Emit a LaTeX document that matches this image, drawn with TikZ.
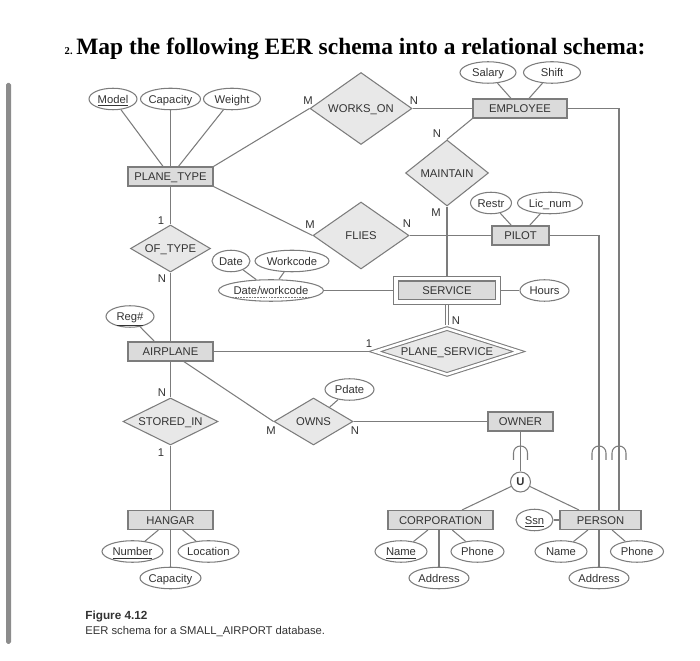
\documentclass[tikz,border=0pt]{standalone}
\usepackage{fontspec}
\setmainfont{Liberation Sans}
\newfontfamily\titlefont{Liberation Serif}
\usepackage{tikz}
\usetikzlibrary{positioning,shapes.geometric}
\definecolor{linegray}{HTML}{7C7C7C}
\definecolor{textgray}{HTML}{333333}
\tikzset{
    small/.style={font=\fontsize{6.4}{7.7}\selectfont,text=textgray,text height=4.6pt,text depth=0pt},
    conn/.style={draw=linegray,line width=0.6pt},
    entity/.style n args={1}{small,conn,fill=gray!28,rectangle,inner sep=0pt,minimum width=#1,minimum height=0.38cm},
    rel/.style n args={3}{small,conn,fill=gray!18,diamond,inner sep=0pt,minimum width=#1,minimum height=#2,aspect=#3},
    attr/.style n args={1}{small,conn,fill=white,ellipse,inner xsep=-3pt,inner ysep=-0.5pt,minimum width=#1,minimum height=0.43cm},
    card/.style={small,inner sep=0pt},
}
\begin{document}
\begin{tikzpicture}[x=0.02cm,y=-0.02cm]
                    \useasboundingbox (0,0) rectangle (700,661);
                    \fill[gray!90,rounded corners=1pt] (6,83) rectangle (11,644);
                    \node[anchor=base east,inner sep=0pt,font=\titlefont\bfseries\fontsize{6}{7}\selectfont] (titleNum) at (73,54.5) {2.};
                    \node[anchor=base west,inner sep=0pt,font=\titlefont\bfseries\fontsize{13.35}{16}\selectfont] (title) at (76,54.5) {Map the following EER schema into a relational schema:};

                    \node[entity={1.7cm}] (planeType) at (170.5,176.5) {PLANE\_TYPE};
                    \node[entity={1.88cm}] (employee) at (520,108.5) {EMPLOYEE};
                    \node[entity={1.14cm}] (pilot) at (520.5,235.5) {PILOT};
                    \node[entity={2.04cm},double,double distance=0.07cm,minimum height=0.47cm,outer sep=1.5pt] (service) at (447,290.5) {SERVICE};
                    \node[entity={1.7cm}] (airplane) at (170.5,351.5) {AIRPLANE};
                    \node[entity={1.3cm}] (owner) at (520.5,421.5) {OWNER};
                    \node[entity={1.7cm}] (hangar) at (170.5,520) {HANGAR};
                    \node[entity={2.1cm}] (corporation) at (440.5,520) {CORPORATION};
                    \node[entity={1.62cm}] (person) at (600.5,520) {PERSON};

                    \node[rel={2.04cm}{1.44cm}{1.42}] (worksOn) at (361,108.5) {WORKS\_ON};
                    \node[rel={1.66cm}{1.32cm}{1.26}] (maintain) at (447,173) {MAINTAIN};
                    \node[rel={1.92cm}{1.34cm}{1.43}] (flies) at (361,235.5) {FLIES};
                    \node[rel={1.6cm}{0.94cm}{1.7}] (ofType) at (170.5,248.5) {OF\_TYPE};
                    \node[rel={1.9cm}{0.94cm}{2.02}] (storedIn) at (170.5,421.5) {STORED\_IN};
                    \node[rel={1.58cm}{0.94cm}{1.68}] (owns) at (313.5,421.5) {OWNS};
                    \node[rel={2.92cm}{0.96cm}{3},double,double distance=0.05cm,outer sep=1.5pt] (planeService) at (447,351.5) {PLANE\_SERVICE};

                    \node[attr={0.96cm}] (model) at (113,99) {\underline{Model}};
                    \node[attr={1.2cm}] (capacityA) at (170.5,99) {Capacity};
                    \node[attr={1.14cm}] (weight) at (232,99) {Weight};
                    \node[attr={1.12cm}] (salary) at (488,72.5) {Salary};
                    \node[attr={1.14cm}] (shift) at (552,72.5) {Shift};
                    \node[attr={0.82cm}] (restr) at (491,203) {Restr};
                    \node[attr={1.3cm}] (licNum) at (550,203) {Lic\_num};
                    \node[attr={0.98cm}] (hours) at (544.5,290.5) {Hours};
                    \node[attr={0.76cm}] (date) at (231,261) {Date};
                    \node[attr={1.48cm}] (workcode) at (292,261) {Workcode};
                    \node[attr={2.1cm}] (dateWorkcode) at (271,290.5) {Date/workcode};
                    \node[attr={0.96cm}] (regNum) at (130,316.5) {\underline{Reg\#}};
                    \node[attr={0.98cm}] (pdate) at (349.5,389.5) {Pdate};
                    \node[attr={1.22cm}] (number) at (132.5,551.5) {\underline{Number}};
                    \node[attr={1.22cm}] (location) at (208.5,551.5) {Location};
                    \node[attr={1.22cm}] (capacityB) at (170.5,578) {Capacity};
                    \node[attr={1.04cm}] (nameC) at (401,551.5) {\underline{Name}};
                    \node[attr={1.06cm}] (phoneC) at (477.5,551.5) {Phone};
                    \node[attr={1.2cm}] (addressC) at (439,578) {Address};
                    \node[attr={0.74cm}] (ssn) at (534.5,520) {\underline{Ssn}};
                    \node[attr={1.04cm}] (nameP) at (561,551.5) {Name};
                    \node[attr={1.06cm}] (phoneP) at (637,551.5) {Phone};
                    \node[attr={1.2cm}] (addressP) at (599,578) {Address};
                    \node[conn,fill=white,circle,inner sep=0pt,minimum size=0.4cm,font=\fontsize{6.4}{7.7}\selectfont\bfseries,text=textgray] (unionU) at (520.5,482) {U};

                    % dashed key line
                    \draw[linegray,dashed,line width=0.5pt,dash pattern=on 1pt off 0.6pt] (232,297) -- (310,297);

                    \coordinate (pilotDown) at (599,510);
                    \coordinate (employeeDown) at (619,510);

                    \draw[conn] (model) -- (planeType);
                    \draw[conn] (capacityA) -- (capacityA |- planeType.north);
                    \draw[conn] (weight) -- (planeType);
                    \draw[conn] (planeType.north east) -- (worksOn.west);
                    \draw[conn] (planeType.south east) -- (flies.west);
                    \draw[conn] (planeType.south) -- (ofType.north);
                    \draw[conn] (ofType.south) -- (airplane.north);
                    \draw[conn] (regNum) -- (airplane.148);
                    \draw[conn] (airplane.east) -- (planeService.west);
                    \draw[conn] (airplane.south) -- (storedIn.north);
                    \draw[conn] (storedIn.south) -- (hangar.north);
                    \draw[conn] (airplane.-37) -- (owns.west);
                    \draw[conn] (pdate) -- (owns);
                    \draw[conn] (owns.east) -- (owner.west);
                    \draw[conn] (worksOn.east) -- (employee.west);
                    \draw[conn] (salary) -- (employee);
                    \draw[conn] (shift) -- (employee);
                    \draw[conn] (employee.south west) -- (maintain.north);
                    \draw[conn] (maintain.south) -- (service.north);
                    \draw[conn] (flies.east) -- (pilot.west);
                    \draw[conn] (restr) -- (pilot);
                    \draw[conn] (licNum) -- (pilot);
                    \draw[conn] (dateWorkcode.east) -- (service.west);
                    \draw[conn] (date) -- (dateWorkcode);
                    \draw[conn] (workcode) -- (dateWorkcode);
                    \draw[conn] (service.east) -- (hours.west);
                    \draw[conn,double,double distance=0.04cm,line width=0.5pt] (service.south) -- (planeService.north);
                    \draw[conn] (pilot.east) -| (pilotDown);
                    \draw[conn] (employee.east) -| (employeeDown);
                    \draw[conn] (owner.south) -- (unionU.north);
                    \draw[conn] (unionU) -- (corporation.25);
                    \draw[conn] (unionU) -- (person.155);
                    \draw[conn] (number) -- (hangar);
                    \draw[conn] (location) -- (hangar);
                    \draw[conn] (capacityB.north) -- (capacityB |- hangar.south);
                    \draw[conn] (nameC) -- (corporation);
                    \draw[conn] (phoneC) -- (corporation);
                    \draw[conn] (addressC.north) -- (addressC |- corporation.south);
                    \draw[conn] (ssn.east) -- (person.west);
                    \draw[conn] (nameP) -- (person);
                    \draw[conn] (phoneP) -- (person);
                    \draw[conn] (addressP.north) -- (addressP |- person.south);

                    % subset marks
                    \foreach \x in {520.5,599,619}
                        \draw[conn] ({\x-7},460) -- ({\x-7},453) .. controls ({\x-7},449) and ({\x-4},446) .. (\x,446) .. controls ({\x+4},446) and ({\x+7},449) .. ({\x+7},453) -- ({\x+7},460);

                    \node[card] (cardA) at (308,100) {M};
                    \node[card] (cardB) at (414,100) {N};
                    \node[card] (cardC) at (437,133) {N};
                    \node[card] (cardD) at (436,212) {M};
                    \node[card] (cardE) at (310,224) {M};
                    \node[card] (cardF) at (407,223) {N};
                    \node[card] (cardG) at (161,220) {1};
                    \node[card] (cardH) at (162,278) {N};
                    \node[card] (cardI) at (456,320) {N};
                    \node[card] (cardJ) at (369,343) {1};
                    \node[card] (cardK) at (162,392) {N};
                    \node[card] (cardL) at (161,452) {1};
                    \node[card] (cardM) at (271,430) {M};
                    \node[card] (cardN) at (355,430) {N};

                    \node[anchor=base west,inner sep=0pt,font=\bfseries\fontsize{6.7}{8}\selectfont,text=textgray] (figTitle) at (85,620) {Figure 4.12};
                    \node[anchor=base west,inner sep=0pt,font=\fontsize{6.4}{8}\selectfont,text=textgray] (figCaption) at (85,635) {EER schema for a SMALL\_AIRPORT database.};
                \end{tikzpicture}
\end{document}
